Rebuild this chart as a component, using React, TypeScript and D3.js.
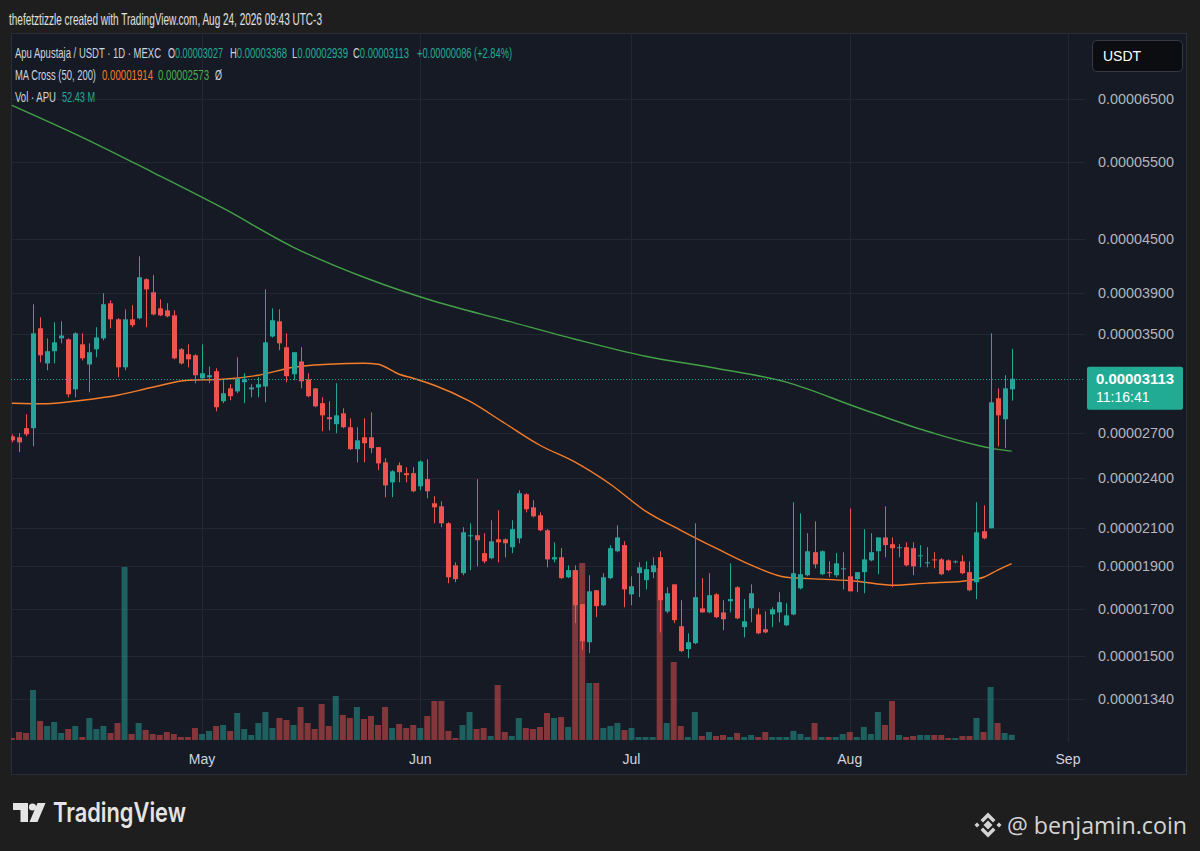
import * as d3 from 'd3';

// APU/USDT daily candles, Apr 4 - Aug 24 2026 (prices in 1e-8 USDT)
const DAY = 86400000;
const FIRST_DAY = Date.UTC(2026, 3, 4);

const opens = [
  2675, 2668, 2733, 2733, 3555, 3241, 3347, 3462, 3453, 3027,
  3408, 3232, 3364, 3462, 3797, 3640, 3208, 3640, 3650, 4045,
  3908, 3747, 3727, 3678, 3364, 3320, 3311, 3117, 3125, 3175,
  2934, 3035, 3011, 3084, 3027, 3042, 3050, 3479, 3621, 3382,
  3150, 3258, 3109, 3035, 2919, 2813, 2762, 2842, 2740, 2586,
  2668, 2668, 2600, 2498, 2370, 2479, 2428, 2428, 2345, 2390,
  2243, 2225, 2128, 1905, 1866, 2056, 2062, 1967, 1941, 2040,
  2040, 1998, 2045, 2297, 2219, 2173, 2089, 1935, 1946, 1846,
  1881, 1720, 1556, 1784, 1715, 1842, 1977, 2009, 1765, 1866,
  1832, 1871, 1946, 1687, 1812, 1623, 1528, 1552, 1701, 1683,
  1765, 1683, 1733, 1798, 1619, 1701, 1674, 1610, 1674, 1683,
  1627, 1674, 1793, 1856, 1972, 1861, 1871, 1856, 1886, 1851,
  1837, 1871, 1930, 1977, 2050, 2014, 1993, 1998, 1993, 1951,
  1915, 1935, 1935, 1930, 1920, 1925, 1871, 1822, 2084, 2100,
  2957, 2798, 3027,
];

const highs = [
  2689, 2697, 2834, 3787, 3659, 3462, 3612, 3621, 3462, 3518,
  3508, 3417, 3565, 3898, 3827, 3650, 3737, 3777, 4297, 4055,
  4088, 3837, 3797, 3727, 3375, 3408, 3320, 3408, 3216, 3200,
  3101, 3068, 3294, 3158, 3068, 3125, 3938, 3747, 3737, 3508,
  3338, 3382, 3158, 3035, 2965, 2934, 3076, 2880, 2805, 2740,
  2805, 2849, 2600, 2525, 2447, 2498, 2466, 2466, 2511, 2518,
  2285, 2255, 2134, 1920, 2106, 2128, 2390, 2073, 2145, 2202,
  2045, 2145, 2321, 2303, 2261, 2190, 2095, 2024, 1993, 1905,
  1905, 1720, 1856, 1784, 1866, 2009, 2117, 2030, 1851, 1920,
  1925, 1946, 1977, 1798, 1812, 1738, 1593, 2128, 1842, 1866,
  1770, 1738, 1915, 1803, 1743, 1812, 1701, 1687, 1706, 1775,
  1724, 2249, 2184, 2073, 2139, 1982, 1925, 1967, 1972, 2213,
  1871, 2095, 2073, 2050, 2225, 2050, 2014, 2024, 2024, 2009,
  1998, 1972, 1941, 1935, 1930, 1956, 1925, 2249, 2231, 3508,
  3035, 3142, 3368,
];

const lows = [
  2633, 2566, 2675, 2606, 3250, 3183, 3241, 3417, 2965, 2965,
  3267, 3004, 3294, 3444, 3555, 3125, 3183, 3565, 3640, 3565,
  3678, 3670, 3659, 3276, 3232, 3208, 3076, 3109, 3076, 2857,
  2919, 2942, 2996, 2919, 2965, 2965, 2926, 3470, 3356, 3084,
  3101, 3035, 2965, 2888, 2711, 2718, 2697, 2733, 2579, 2498,
  2498, 2559, 2447, 2279, 2279, 2370, 2370, 2309, 2321, 2273,
  2128, 2106, 1817, 1822, 1856, 1881, 1900, 1915, 1936, 1920,
  1946, 1967, 2019, 2190, 2161, 2084, 1895, 1920, 1837, 1842,
  1636, 1524, 1512, 1662, 1711, 1837, 1972, 1706, 1715, 1752,
  1788, 1842, 1597, 1679, 1636, 1516, 1492, 1548, 1683, 1679,
  1658, 1606, 1683, 1653, 1576, 1640, 1589, 1593, 1619, 1640,
  1623, 1670, 1788, 1851, 1890, 1856, 1846, 1846, 1788, 1779,
  1775, 1770, 1925, 1861, 1946, 1798, 1946, 1900, 1856, 1895,
  1895, 1890, 1856, 1876, 1915, 1861, 1779, 1743, 2040, 2100,
  2606, 2593, 2939,
];

const closes = [
  2647, 2633, 2689, 3508, 3311, 3347, 3426, 3488, 2988, 3508,
  3285, 3338, 3470, 3787, 3640, 3208, 3640, 3584, 4066, 3938,
  3687, 3678, 3669, 3285, 3241, 3276, 3142, 3158, 3142, 2888,
  2996, 2973, 3117, 3109, 3042, 3068, 3426, 3631, 3417, 3134,
  3338, 3092, 2973, 2895, 2827, 2798, 2827, 2740, 2586, 2647,
  2627, 2593, 2491, 2351, 2440, 2434, 2415, 2315, 2504, 2315,
  2219, 2128, 1846, 1837, 2078, 2062, 2035, 1925, 2029, 2024,
  2019, 2095, 2303, 2208, 2167, 2089, 1935, 1946, 1842, 1881,
  1715, 1560, 1779, 1711, 1846, 1993, 2050, 1788, 1803, 1895,
  1886, 1905, 1738, 1770, 1649, 1520, 1556, 1752, 1683, 1761,
  1662, 1653, 1743, 1657, 1644, 1770, 1593, 1597, 1697, 1729,
  1670, 1866, 1861, 1977, 1910, 1977, 1866, 1915, 1890, 1779,
  1871, 1935, 1972, 2050, 2009, 1993, 1998, 1905, 1900, 1956,
  1920, 1930, 1861, 1881, 1925, 1866, 1784, 2078, 2045, 2926,
  2827, 3035, 3113,
];

// volume in millions of APU
const volumes = [
  20, 80, 70, 500, 190, 140, 180, 70, 110, 140,
  30, 220, 110, 140, 70, 170, 1730, 60, 170, 100,
  60, 50, 80, 60, 30, 30, 120, 60, 90, 140,
  150, 90, 270, 110, 50, 170, 280, 120, 220, 200,
  150, 330, 170, 110, 360, 140, 440, 250, 220, 330,
  210, 240, 150, 330, 120, 160, 120, 150, 120, 240,
  390, 390, 90, 20, 150, 280, 110, 120, 40, 550,
  80, 40, 220, 120, 110, 130, 270, 220, 230, 130,
  1700, 1770, 570, 570, 120, 140, 170, 100, 120, 30,
  30, 30, 1720, 170, 780, 140, 30, 280, 40, 80,
  40, 50, 30, 70, 30, 50, 30, 80, 30, 30,
  30, 90, 60, 30, 170, 30, 30, 30, 60, 80,
  30, 130, 60, 280, 150, 390, 50, 30, 40, 50,
  50, 50, 50, 20, 20, 40, 40, 220, 80, 530,
  170, 70, 52.43,
];

// moving averages (day index -> value)
const ma50Days = [0, 5, 10, 15, 20, 25, 30, 35, 40, 45, 50, 52, 55, 57, 60, 65, 70, 75, 80, 85, 90, 95, 100, 105, 110, 115, 120, 125, 130, 135, 138, 140, 142];
const ma50Values = [2919, 2915, 2942, 2981, 3044, 3101, 3109, 3142, 3209, 3234, 3243, 3234, 3150, 3117, 3060, 2934, 2769, 2613, 2499, 2358, 2197, 2089, 1993, 1906, 1846, 1837, 1827, 1808, 1818, 1827, 1846, 1881, 1914];
const ma200Days = [0, 10, 20, 30, 40, 50, 60, 70, 80, 90, 100, 110, 120, 130, 140, 142];
const ma200Values = [6394, 5877, 5360, 4876, 4400, 4066, 3817, 3631, 3454, 3303, 3200, 3085, 2888, 2711, 2585, 2573];

const priceTicks = [6500, 5500, 4500, 3900, 3500, 2700, 2400, 2100, 1900, 1700, 1500, 1340];
const monthLabels = ['May', 'Jun', 'Jul', 'Aug', 'Sep'];
const monthDates = [Date.UTC(2026, 4, 1), Date.UTC(2026, 5, 1), Date.UTC(2026, 6, 1), Date.UTC(2026, 7, 1), Date.UTC(2026, 8, 1)];

const UP = '#26a69a';
const DOWN = '#ef5350';
const UP_VOL = 'rgba(38,166,154,0.5)';
const DOWN_VOL = 'rgba(239,83,80,0.5)';
const TEXT = '#d1d4dc';
const VALUE = '#22ab94';
const MA50 = '#f57c29';
const MA200 = '#43a047';
const FONT = '"Liberation Sans", Roboto, sans-serif';

const plot = { left: 11, right: 1085, top: 33, bottom: 742 };

const fmt = (v: number) => (v * 1e-8).toFixed(8);

export default function App() {
  const x = d3.scaleUtc().domain([monthDates[0], monthDates[4]]).range([202, 1068]);
  const y = d3.scaleLog().domain([6500, 1340]).range([99, 699]);
  const yVol = d3.scaleLinear().domain([0, d3.max(volumes) as number]).range([740, 563]);
  const dayX = (i: number) => x(FIRST_DAY + i * DAY);

  const maLine = d3
    .line<[number, number]>()
    .x((d) => dayX(d[0]))
    .y((d) => y(d[1]))
    .curve(d3.curveMonotoneX);

  const ma50Path = maLine(ma50Days.map((d, k) => [d, ma50Values[k]] as [number, number])) || '';
  const ma200Path = maLine(ma200Days.map((d, k) => [d, ma200Values[k]] as [number, number])) || '';

  const last = closes.length - 1;
  const lastUp = closes[last] >= opens[last];
  const lastY = y(closes[last]);

  // legend pieces: [x, width, label, value]
  const ohlc: [number, number, string, number][] = [
    [168, 55, 'O', opens[last]],
    [230, 57, 'H', highs[last]],
    [292, 56, 'L', lows[last]],
    [353, 56, 'C', closes[last]],
  ];

  return (
    <div style={{ position: 'fixed', left: 0, top: 0, width: 1200, height: 851 }}>
      <svg width={1200} height={851} style={{ display: 'block' }} fontFamily={FONT}>
        <defs>
          <clipPath id="plot-clip">
            <rect x={plot.left} y={plot.top} width={plot.right - plot.left} height={plot.bottom - plot.top} />
          </clipPath>
        </defs>
        <rect width={1200} height={851} fill="#1e1e1e" />
        <rect x={11.5} y={33.5} width={1175} height={741} fill="#161a25" stroke="#2a2e39" />

        {/* grid */}
        <g stroke="#232734" strokeWidth={1}>
          {priceTicks.map((t) => (
            <line key={t} x1={plot.left} x2={plot.right} y1={Math.round(y(t)) + 0.5} y2={Math.round(y(t)) + 0.5} />
          ))}
          {monthDates.map((d) => (
            <line key={d} x1={Math.round(x(d)) + 0.5} x2={Math.round(x(d)) + 0.5} y1={plot.top} y2={plot.bottom} />
          ))}
        </g>

        <g clipPath="url(#plot-clip)">
          {/* volume */}
          {volumes.map((v, i) => (
            <rect
              key={i}
              x={dayX(i) - 3}
              y={yVol(v)}
              width={6}
              height={740 - yVol(v)}
              fill={closes[i] >= opens[i] ? UP_VOL : DOWN_VOL}
            />
          ))}

          {/* moving averages */}
          <path d={ma200Path} fill="none" stroke={MA200} strokeWidth={1.4} />
          <path d={ma50Path} fill="none" stroke={MA50} strokeWidth={1.4} />

          {/* candles */}
          {opens.map((o, i) => {
            const c = closes[i];
            const color = c >= o ? UP : DOWN;
            const cx = Math.round(dayX(i)) + 0.5;
            const top = y(Math.max(o, c));
            const bot = y(Math.min(o, c));
            return (
              <g key={i}>
                <line x1={cx} x2={cx} y1={y(highs[i])} y2={y(lows[i])} stroke={color} strokeWidth={1} />
                <rect x={cx - 2.5} y={top} width={5} height={Math.max(1, bot - top)} fill={color} />
              </g>
            );
          })}

          {/* last price line */}
          <line
            x1={plot.left}
            x2={plot.right}
            y1={Math.round(lastY) + 0.5}
            y2={Math.round(lastY) + 0.5}
            stroke={UP}
            strokeDasharray="1 2"
          />
        </g>

        {/* price axis */}
        <g fontSize={14} fill="#b2b5be">
          {priceTicks.map((t) => (
            <text key={t} x={1098} y={y(t)} dominantBaseline="central" textLength={76} lengthAdjust="spacingAndGlyphs">
              {fmt(t)}
            </text>
          ))}
        </g>
        <rect x={1087} y={lastY - 12} width={96} height={43} rx={2} fill={VALUE} />
        <text x={1096} y={lastY + 5} fontSize={14} fontWeight="bold" fill="#ffffff" textLength={78} lengthAdjust="spacingAndGlyphs">
          {fmt(closes[last])}
        </text>
        <text x={1096} y={lastY + 23} fontSize={14} fill="#ffffff">
          11:16:41
        </text>

        <rect x={1092.5} y={40.5} width={90} height={31} rx={4} fill="#0c0d10" stroke="#363a45" />
        <text x={1103} y={61} fontSize={14} fill="#ffffff">
          USDT
        </text>

        {/* time axis */}
        <g fontSize={14} fill={TEXT} textAnchor="middle">
          {monthDates.map((d, k) => (
            <text key={d} x={x(d)} y={764}>
              {monthLabels[k]}
            </text>
          ))}
        </g>

        {/* header */}
        <text x={9} y={25} fontSize={16.5} fill="#e0e0e0" textLength={313} lengthAdjust="spacingAndGlyphs">
          thefetztizzle created with TradingView.com, Aug 24, 2026 09:43 UTC-3
        </text>

        {/* legend */}
        <g fontSize={15} fill={TEXT}>
          <text x={15} y={58} textLength={146} lengthAdjust="spacingAndGlyphs">
            Apu Apustaja / USDT · 1D · MEXC
          </text>
          {ohlc.map(([lx, w, label, v]) => (
            <text key={label} x={lx} y={58} textLength={w} lengthAdjust="spacingAndGlyphs">
              {label}
              <tspan fill={VALUE}>{fmt(v)}</tspan>
            </text>
          ))}
          <text x={417} y={58} fill={VALUE} textLength={95} lengthAdjust="spacingAndGlyphs">
            {`+${fmt(closes[last] - opens[last])} (+2.84%)`}
          </text>

          <text x={15} y={80} textLength={81} lengthAdjust="spacingAndGlyphs">MA Cross (50, 200)</text>
          <text x={102} y={80} fill={MA50} textLength={51} lengthAdjust="spacingAndGlyphs">
            {fmt(ma50Values[ma50Values.length - 1])}
          </text>
          <text x={158} y={80} fill="#4caf50" textLength={51} lengthAdjust="spacingAndGlyphs">
            {fmt(ma200Values[ma200Values.length - 1])}
          </text>
          <text x={215} y={80} textLength={7} lengthAdjust="spacingAndGlyphs">Ø</text>

          <text x={15} y={102} textLength={41} lengthAdjust="spacingAndGlyphs">Vol · APU</text>
          <text x={62} y={102} fill={lastUp ? UP : DOWN} textLength={33} lengthAdjust="spacingAndGlyphs">
            {`${volumes[last].toFixed(2)} M`}
          </text>
        </g>

        {/* footer: TradingView logo */}
        <g fill="#e4e4e4">
          <path d="M13,803 H28 V822 H20.5 V810 H13 Z" />
          <circle cx={32.5} cy={807} r={3.6} />
          <path d="M37.5,803 H45.5 L37.5,822 H29.5 Z" />
          <text x={53} y={822} fontSize={27} fontWeight={600} fontFamily="Inter, Roboto, sans-serif" textLength={133} lengthAdjust="spacingAndGlyphs">
            TradingView
          </text>
        </g>

        {/* watermark */}
        <g fill="#d4d4d4" transform="translate(988,825)">
          <rect x={-3.2} y={-3.2} width={6.4} height={6.4} transform="rotate(45)" />
          <rect x={-1.8} y={-1.8} width={3.6} height={3.6} transform="translate(-11,0) rotate(45)" />
          <rect x={-1.8} y={-1.8} width={3.6} height={3.6} transform="translate(11,0) rotate(45)" />
          <path d="M-7.5,-5 L0,-12.5 L7.5,-5 L5,-2.5 L0,-7.5 L-5,-2.5 Z" />
          <path d="M-7.5,5 L0,12.5 L7.5,5 L5,2.5 L0,7.5 L-5,2.5 Z" />
        </g>
        <text x={1007} y={834} fontSize={24} fill="#d4d4d4" fontFamily='"Open Sans", "Noto Sans", sans-serif' textLength={180} lengthAdjust="spacingAndGlyphs">
          @ benjamin.coin
        </text>
      </svg>
    </div>
  );
}
